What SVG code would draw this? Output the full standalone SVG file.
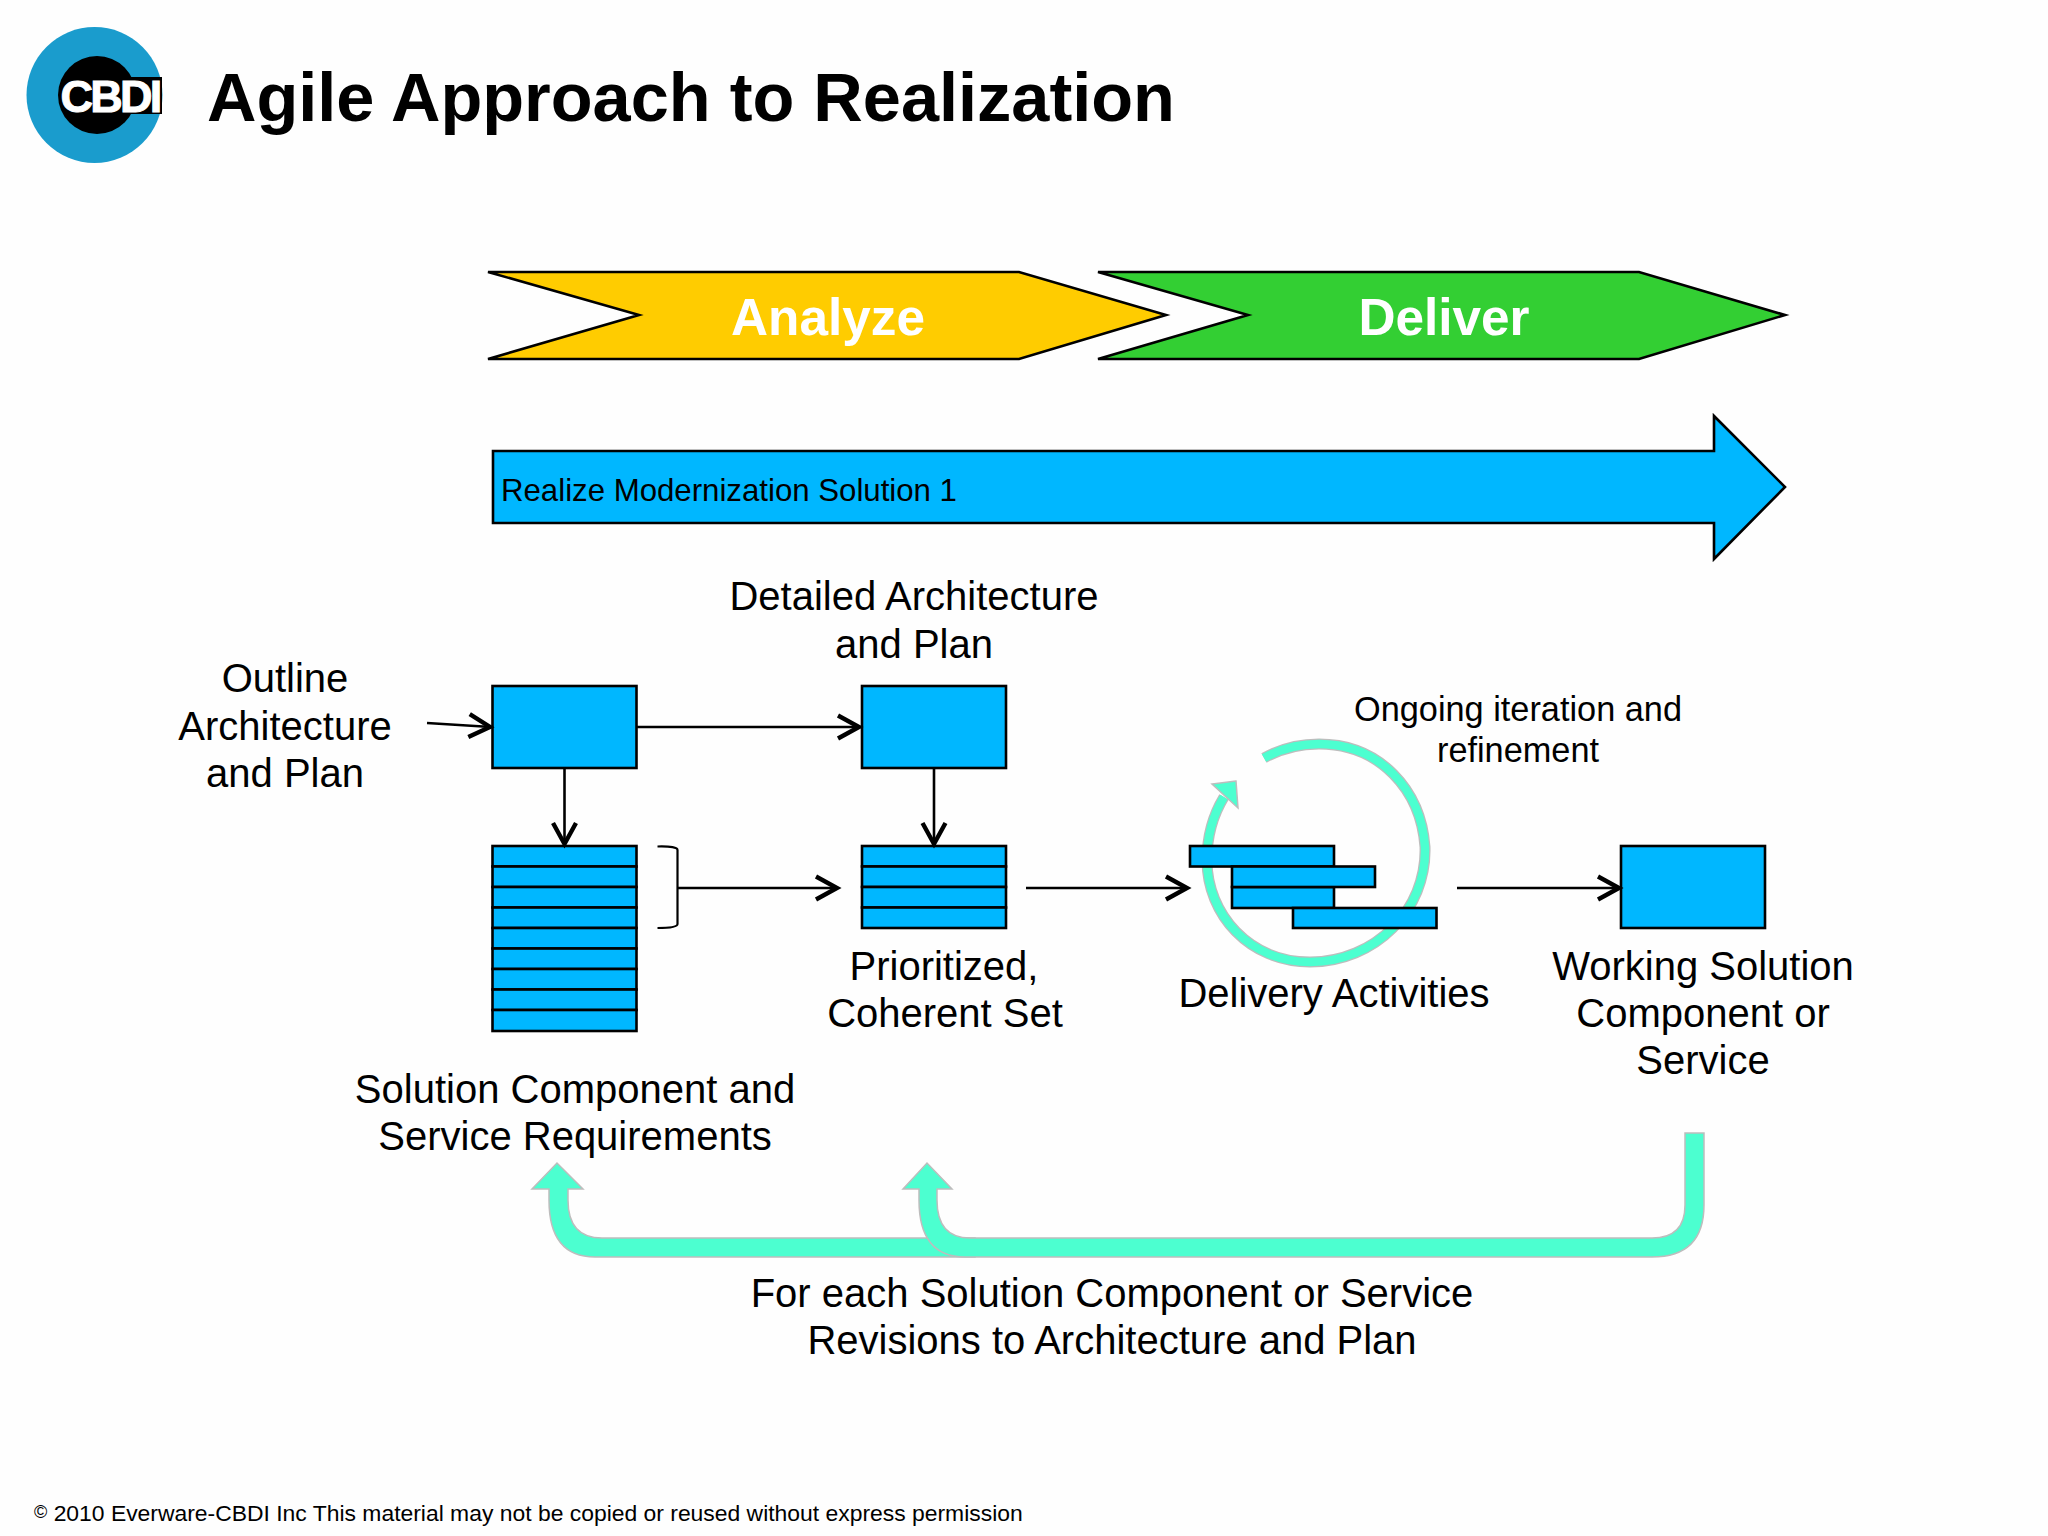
<svg xmlns="http://www.w3.org/2000/svg" width="2048" height="1536" viewBox="0 0 2048 1536">
<style>
text{font-family:"Liberation Sans",Arial,sans-serif;fill:#000}
.l{font-size:40px;text-anchor:middle}
.s{font-size:34.300px;text-anchor:middle}
.h{font-size:51.300px;font-weight:bold;fill:#fff;text-anchor:middle}
.b{fill:#00b7ff;stroke:#000;stroke-width:2.6}
.c{fill:none;stroke:#000;stroke-width:2.6;marker-end:url(#open)}
.t{fill:#4cffd0;stroke:#bdbdbd;stroke-width:1.5}
</style>
<defs>
<marker id="open" markerUnits="userSpaceOnUse" markerWidth="40" markerHeight="40" refX="30" refY="20" orient="auto" viewBox="0 0 40 40"><path d="M8,8.500 L29,20 L8,31.500" fill="none" stroke="#000" stroke-width="4.400"/></marker>
<path id="ring" d="M1264,758 C1282,748 1300,744 1319,744 C1380,744 1421,790 1425,847 C1427,910 1375,962 1310,962 C1250,962 1207,915 1207,860 C1207,838 1213,815 1224,797" fill="none"/>
</defs>
<rect width="2048" height="1536" fill="#fefefe"/>
<g id="logo">
<circle cx="94.500" cy="95" r="68" fill="#1a9ccd"/>
<circle cx="97" cy="95" r="39" fill="#000"/>
<rect x="120" y="77" width="42" height="37" fill="#000"/>
<text x="110" y="112" font-size="45" font-weight="bold" text-anchor="middle" letter-spacing="-2.800" stroke="#fff" stroke-width="1" style="fill:#fff">CBDI</text>
</g>
<text id="title" x="207" y="121" font-size="68.500" font-weight="bold">Agile Approach to Realization</text>
<g id="analyze"><polygon points="488,272 1019,272 1166,315 1019,359 488,359 639,315" fill="#ffcc00" stroke="#000" stroke-width="2.600"/><text class="h" x="828" y="335">Analyze</text></g>
<g id="deliver"><polygon points="1098,272 1639,272 1785,315 1639,359 1098,359 1248,315" fill="#33cf33" stroke="#000" stroke-width="2.600"/><text class="h" x="1444" y="335">Deliver</text></g>
<g id="realize"><polygon class="b" points="493,451 1714,451 1714,416 1785,487 1714,559 1714,523 493,523"/><text x="501" y="501" font-size="31.200">Realize Modernization Solution 1</text></g>
<g id="loop-arrows">
<path class="t" d="M549,1189 H532 L557,1163 L583,1189 H568 V1200 Q568,1238 602,1238 H975 V1257 H595 Q549,1257 549,1200 Z"/>
<path class="t" d="M1685,1133 H1704 V1205 Q1704,1257 1652,1257 H965 Q919,1257 919,1200 V1189 H903 L927,1163 L952,1189 H937 V1200 Q937,1238 970,1238 H1652 Q1685,1238 1685,1205 Z"/>
</g>
<g id="iteration-loop">
<use href="#ring" stroke="#bdbdbd" stroke-width="11"/>
<use href="#ring" stroke="#4cffd0" stroke-width="8.500"/>
<polygon class="t" points="1236,781 1212,784 1238,808"/>
</g>
<g id="outline-box"><rect class="b" x="492.500" y="686" width="144" height="82"/></g>
<g id="detail-box"><rect class="b" x="862" y="686" width="144" height="82"/></g>
<g id="requirements-list">
<rect class="b" x="492.500" y="846" width="144" height="20.500"/><rect class="b" x="492.500" y="866.500" width="144" height="20.500"/><rect class="b" x="492.500" y="887" width="144" height="20.500"/><rect class="b" x="492.500" y="907.500" width="144" height="20.500"/><rect class="b" x="492.500" y="928" width="144" height="20.500"/><rect class="b" x="492.500" y="948.500" width="144" height="20.500"/><rect class="b" x="492.500" y="969" width="144" height="20.500"/><rect class="b" x="492.500" y="989.500" width="144" height="20.500"/><rect class="b" x="492.500" y="1010" width="144" height="21"/>
</g>
<g id="coherent-set">
<rect class="b" x="862" y="846" width="144" height="20.500"/><rect class="b" x="862" y="866.500" width="144" height="20.500"/><rect class="b" x="862" y="887" width="144" height="20.500"/><rect class="b" x="862" y="907.500" width="144" height="20.500"/>
</g>
<g id="delivery-activities">
<rect class="b" x="1190" y="846" width="144" height="20.500"/><rect class="b" x="1232" y="887" width="102" height="21"/><rect class="b" x="1232" y="866.500" width="143" height="20.500"/><rect class="b" x="1293" y="908" width="143.500" height="20"/>
</g>
<g id="working-box"><rect class="b" x="1621" y="846" width="144" height="82"/></g>
<g id="connectors">
<path class="c" d="M427,723 L491,727"/>
<path class="c" d="M637,727 H860"/>
<path class="c" d="M564.500,768 V845"/>
<path class="c" d="M934,768 V845"/>
<path class="c" d="M678,888 H838"/>
<path d="M657.500,846.500 Q677.500,846 677.500,850 V924 Q677.500,928 657.500,928" fill="none" stroke="#000" stroke-width="2.200"/>
<path class="c" d="M1026,888 H1188"/>
<path class="c" d="M1457,888 H1620"/>
</g>
<g id="labels">
<text class="l" x="914" y="610">Detailed Architecture</text>
<text class="l" x="914" y="658">and Plan</text>
<text class="l" x="285" y="692">Outline</text>
<text class="l" x="285" y="740">Architecture</text>
<text class="l" x="285" y="787">and Plan</text>
<text class="s" x="1518" y="721">Ongoing iteration and</text>
<text class="s" x="1518" y="762">refinement</text>
<text class="l" x="1334" y="1007">Delivery Activities</text>
<text class="l" x="944" y="980">Prioritized,</text>
<text class="l" x="945" y="1027">Coherent Set</text>
<text class="l" x="1703" y="980">Working Solution</text>
<text class="l" x="1703" y="1027">Component or</text>
<text class="l" x="1703" y="1074">Service</text>
<text class="l" x="575" y="1103">Solution Component and</text>
<text class="l" x="575" y="1150">Service Requirements</text>
<text class="l" x="1112" y="1307">For each Solution Component or Service</text>
<text class="l" x="1112" y="1354">Revisions to Architecture and Plan</text>
<text x="34" y="1521" font-size="22.900"><tspan font-size="18" dy="-3">©</tspan><tspan dy="3"> 2010 Everware-CBDI Inc This material may not be copied or reused without express permission</tspan></text>
</g>
</svg>
